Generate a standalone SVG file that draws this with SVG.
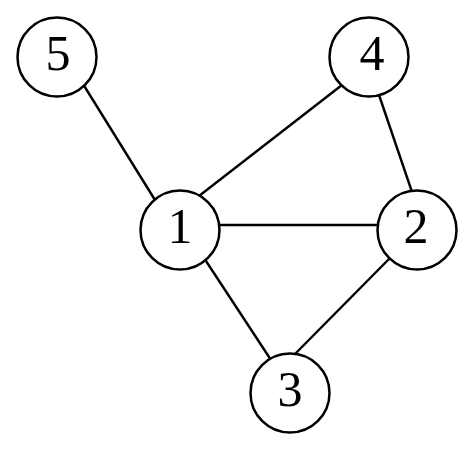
<svg xmlns="http://www.w3.org/2000/svg" width="474" height="451" viewBox="0 0 474 451">
<style>
.e{stroke:#000;stroke-width:2.4;fill:none}
.n circle{fill:#fff;stroke:#000;stroke-width:2.5}
.n text{font-family:"Liberation Serif",serif;font-size:50px;text-anchor:middle;fill:#000}
</style>
<rect width="474" height="451" fill="#fff"/>
<g id="edges">
<line class="e" x1="83" y1="84" x2="155" y2="200"/>
<line class="e" x1="342" y1="85" x2="199" y2="196"/>
<line class="e" x1="378" y1="92" x2="412" y2="192"/>
<line class="e" x1="218" y1="225" x2="378" y2="225"/>
<line class="e" x1="204" y1="258" x2="271" y2="360"/>
<line class="e" x1="390" y1="258" x2="293" y2="356"/>
</g>
<g id="node5" class="n"><circle cx="57" cy="57" r="39.5"/><text x="58" y="70">5</text></g>
<g id="node4" class="n"><circle cx="369" cy="57" r="39.5"/><text x="372" y="70">4</text></g>
<g id="node1" class="n"><circle cx="180" cy="230" r="39.5"/><text x="180" y="243">1</text></g>
<g id="node2" class="n"><circle cx="417" cy="230" r="39.5"/><text x="416" y="243">2</text></g>
<g id="node3" class="n"><circle cx="290" cy="393" r="39.5"/><text x="290" y="406">3</text></g>
</svg>
